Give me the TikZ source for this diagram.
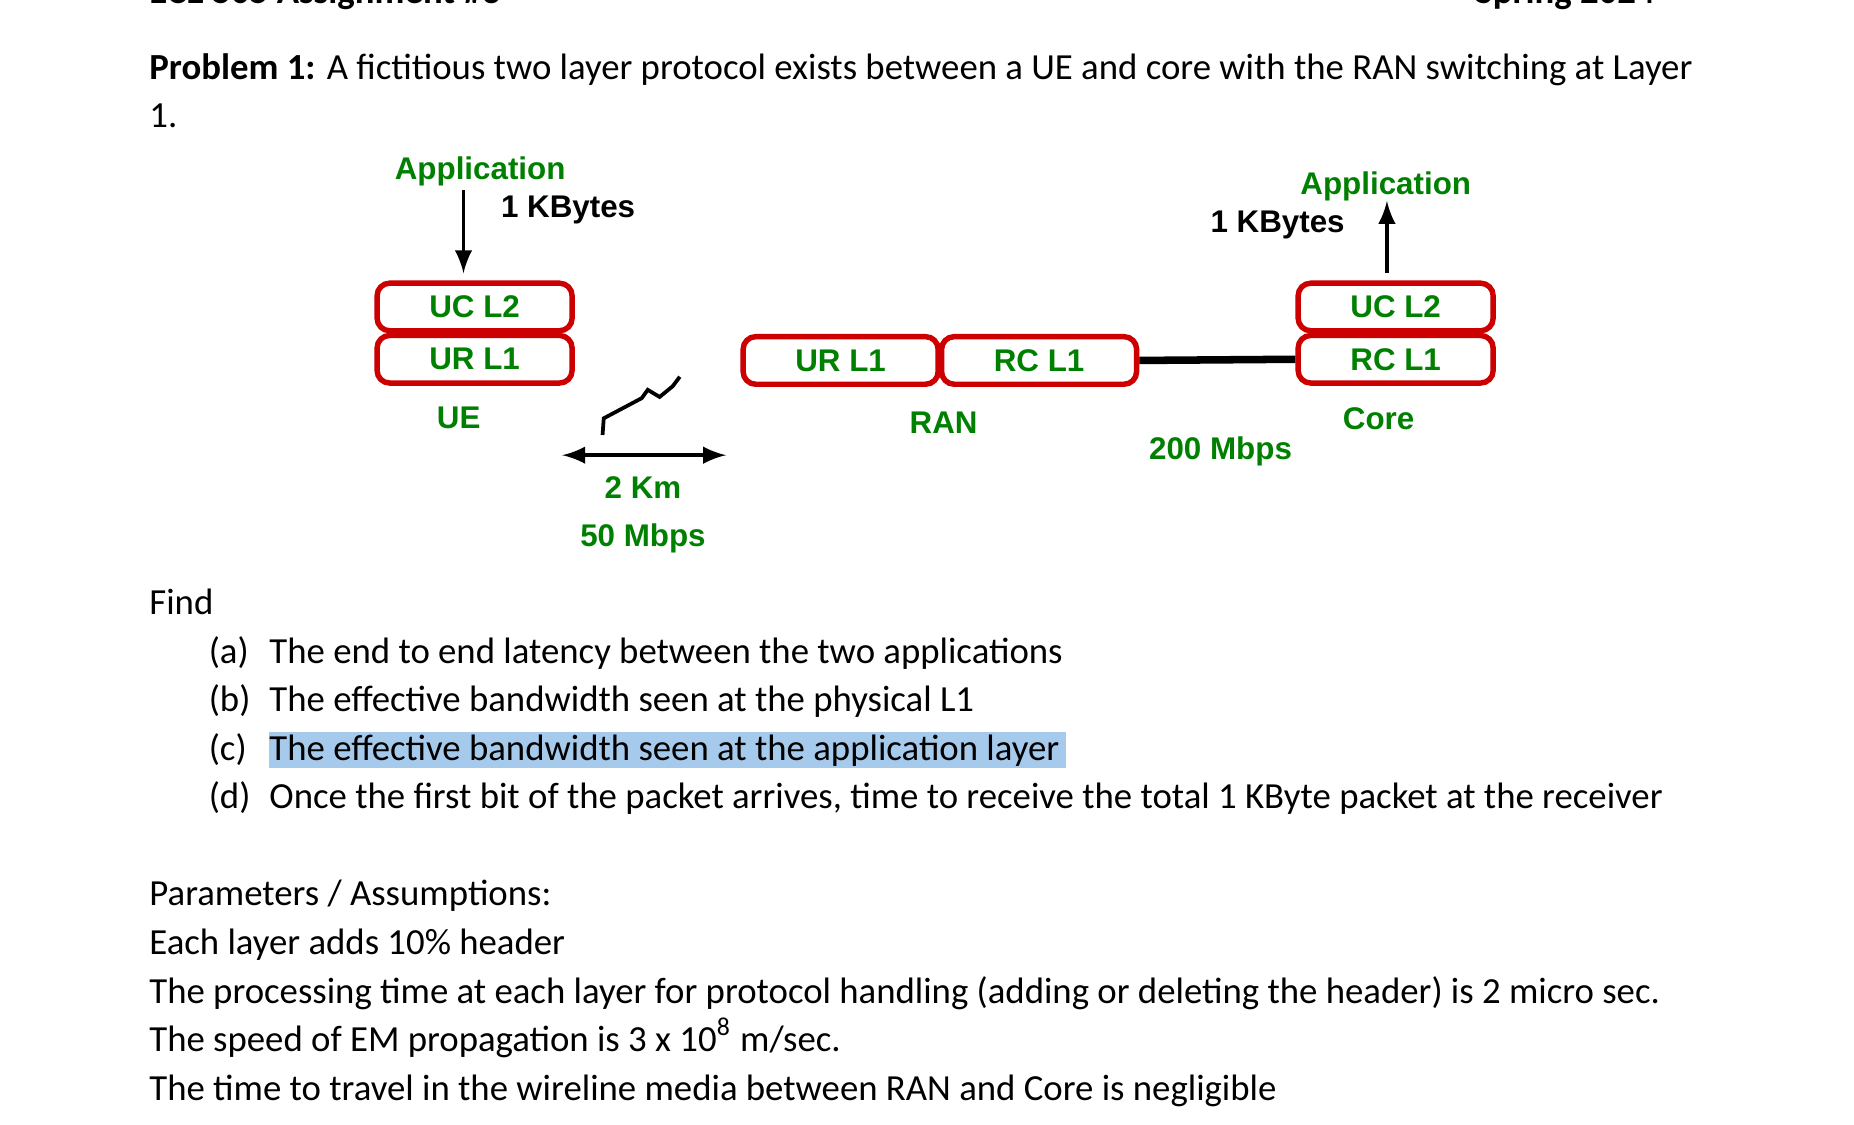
\documentclass[tikz,border=0pt]{standalone}
\usepackage{fontspec}
\setmainfont{Carlito}
\newfontfamily\arialb[Scale=1.0]{Liberation Sans}
\definecolor{lg}{RGB}{0,128,0}
\definecolor{bx}{RGB}{204,0,0}
\definecolor{hl}{RGB}{166,202,236}
\begin{document}
\begin{tikzpicture}[x=0.01cm,y=-0.01cm,
  body/.style={anchor=base west,inner sep=0,font=\fontsize{8.8}{10}\selectfont},
  lab/.style={inner sep=0,font=\fontsize{7.5}{9}\selectfont\arialb\bfseries,text=lg},
  blab/.style={inner sep=0,font=\fontsize{7.5}{9}\selectfont\arialb\bfseries},
  layer/.style={draw=bx,line width=1.3pt,rounded corners=3pt,minimum width=1.64cm,minimum height=0.40cm,inner sep=0,anchor=north west,font=\fontsize{7.5}{9}\selectfont\arialb\bfseries,text=lg}]
\useasboundingbox (0,0) rectangle (1560,946);
\clip (0,0) rectangle (1560,946);
\fill[white] (0,0) rectangle (1560,946);
\node[body,font=\fontsize{8.8}{10}\selectfont\bfseries] (hdl) at (125,3) {ECE 505 Assignment \#3};
\node[body,anchor=base east,font=\fontsize{8.8}{10}\selectfont\bfseries] (hdr) at (1393,3) {Spring 2024};
\node[body] (p1) at (125,67) {\textbf{Problem 1:} A fictitious two layer protocol exists between a UE and core with the RAN switching at Layer};
\node[body] (p2) at (125,107) {1.};
% left stack
\node[layer] (ucl) at (315,236) {UC L2};
\node[layer] (url) at (315,280) {UR L1};
\node[lab] (appl) at (404,144) {Application};
\coordinate (al1) at (390,160);
\coordinate (al2) at (390,230);
\draw[-latex,line width=0.9pt] (al1) -- (al2);
\node[blab] (kbl) at (478,177) {1 KBytes};
\node[lab] (ue) at (386,352) {UE};
% RAN
\node[layer] (ranu) at (623,281) {UR L1};
\node[layer] (ranr) at (790,281) {RC L1};
\node[lab] (ran) at (794,356) {RAN};
% core
\node[layer] (cuc) at (1090,236) {UC L2};
\node[layer] (crc) at (1090,280) {RC L1};
\node[lab] (core) at (1160,352) {Core};
\node[lab] (appr) at (1166,157) {Application};
\coordinate (ar1) at (1167,230);
\coordinate (ar2) at (1167,169);
\draw[-latex,line width=0.9pt] (ar1) -- (ar2);
\node[blab] (kbr) at (1075,189) {1 KBytes};
\draw[line width=1.8pt] (ranr.east) -- (crc.west);
\node[lab] (r200) at (1027,380) {200 Mbps};
% wireless
\draw[line width=0.9pt] (507,366) -- (508,352) -- (540,335) -- (545,328) -- (555,334) -- (566,325) -- (572,317);
\coordinate (d1) at (473,383);
\coordinate (d2) at (611,383);
\draw[latex-latex,line width=0.9pt] (d1) -- (d2);
\node[lab] (km) at (541,410) {2 Km};
\node[lab] (r50) at (541,453) {50 Mbps};
% text
\node[body] (find) at (125,517) {Find};
\fill[hl] (226,616) rectangle (897,646);
\foreach \l/\t/\y in {a/The end to end latency between the two applications/558,
  b/The effective bandwidth seen at the physical L1/599,
  c/The effective bandwidth seen at the application layer/640,
  d/Once the first bit of the packet arrives{,} time to receive the total 1 KByte packet at the receiver/680}{
  \node[body] (it\l) at (175,\y) {(\l)};
  \node[body] (tx\l) at (226,\y) {\t};
}
\node[body] (pa) at (125,762) {Parameters / Assumptions:};
\node[body] (pb) at (125,803) {Each layer adds 10\% header};
\node[body] (pc) at (125,844) {The processing time at each layer for protocol handling (adding or deleting the header) is 2 micro sec.};
\node[body] (pd) at (125,885) {The speed of EM propagation is 3 x 10\textsuperscript{8} m/sec.};
\node[body] (pe) at (125,926) {The time to travel in the wireline media between RAN and Core is negligible};
\end{tikzpicture}
\end{document}
